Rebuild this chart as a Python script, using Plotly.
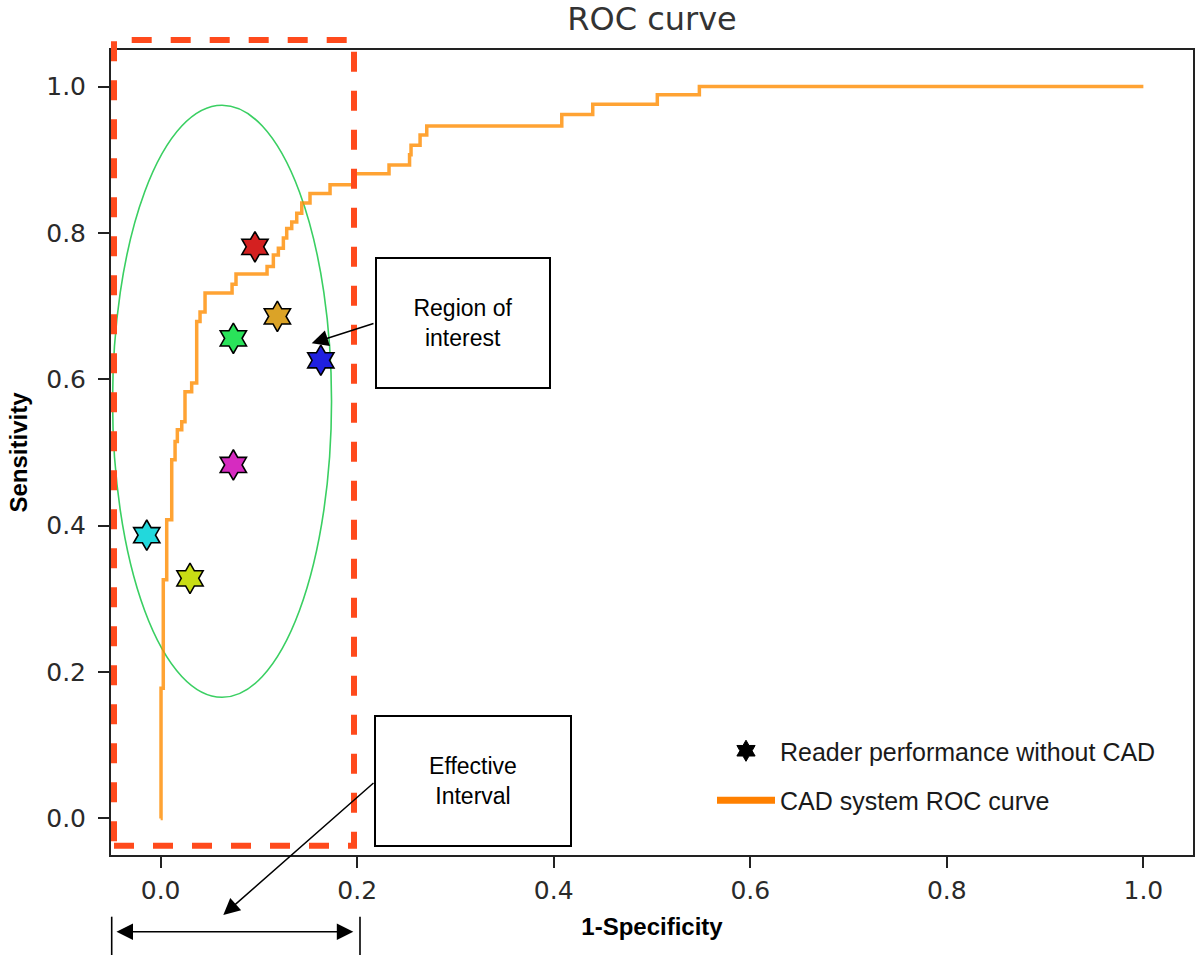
import plotly.graph_objects as go

# ---------------- data ----------------
# CAD system ROC curve (corner points; horizontal-then-vertical steps)
roc_fpr = [0.0, 0.0004, 0.0027, 0.0062, 0.0113, 0.0147, 0.0170, 0.0215, 0.0248,
           0.0316, 0.0367, 0.0401, 0.0452, 0.0727, 0.0767, 0.1083, 0.1147,
           0.1198, 0.1249, 0.1283, 0.1334, 0.1385, 0.1436, 0.1520, 0.1724,
           0.1968, 0.2324, 0.2533, 0.2548, 0.2640, 0.2708, 0.4082, 0.4397,
           0.5054, 0.5482, 1.0]
roc_tpr = [0.0, 0.178, 0.326, 0.408, 0.490, 0.515, 0.531, 0.542, 0.583,
           0.595, 0.679, 0.692, 0.718, 0.730, 0.744, 0.754, 0.770,
           0.779, 0.793, 0.806, 0.815, 0.827, 0.841, 0.854, 0.866,
           0.881, 0.893, 0.907, 0.920, 0.934, 0.946, 0.962, 0.976,
           0.989, 1.0, 1.0]

# Reader performance without CAD
reader_fpr = [0.096, 0.1188, 0.074, 0.163, 0.074, -0.0141, 0.0299]
reader_tpr = [0.781, 0.686, 0.656, 0.626, 0.483, 0.387, 0.328]
reader_colors = ["#d42020", "#dba327", "#2ae35a", "#2020e0",
                 "#d62bc0", "#22d8dc", "#c8dc14"]

x_ticks = [0.0, 0.2, 0.4, 0.6, 0.8, 1.0]
y_ticks = [0.0, 0.2, 0.4, 0.6, 0.8, 1.0]

# region-of-interest ellipse (data units)
ell_cx, ell_cy, ell_rx, ell_ry = 0.0625, 0.570, 0.1114, 0.4045

# ---------------- layout helpers ----------------
W, H = 1200, 959
# plot area in page pixels
SL, SR, ST, SB = 111, 1193, 50, 855


def fx(px):
    return (px - SL) / (SR - SL)


def fy(py):
    return (SB - py) / (SB - ST)


fig = go.Figure()

fig.add_trace(go.Scatter(
    x=roc_fpr, y=roc_tpr, mode="lines", line_shape="hv",
    line=dict(color="rgba(255,140,0,0.8)", width=3.5),
    showlegend=False, hoverinfo="skip"))

fig.add_trace(go.Scatter(
    x=reader_fpr, y=reader_tpr, mode="markers",
    marker=dict(symbol="hexagram", size=23, color=reader_colors,
                line=dict(color="black", width=1.6)),
    showlegend=False))

# legend entries
fig.add_trace(go.Scatter(
    x=[None], y=[None], mode="markers", name="Reader performance without CAD",
    marker=dict(symbol="hexagram", size=22, color="black",
                line=dict(color="black", width=1)),
    legendgroup="a"))
fig.add_trace(go.Scatter(
    x=[None], y=[None], mode="lines", name="CAD system ROC curve",
    line=dict(color="#ff8000", width=7), legendgroup="b"))

shapes = []
# ellipse
shapes.append(dict(type="circle", xref="x", yref="y",
                   x0=ell_cx - ell_rx, x1=ell_cx + ell_rx,
                   y0=ell_cy - ell_ry, y1=ell_cy + ell_ry,
                   line=dict(color="#3acf62", width=1.6), layer="below"))
# red dashed rectangle
shapes.append(dict(type="rect", xref="paper", yref="paper",
                   x0=fx(114), x1=fx(354), y0=fy(845.7), y1=fy(40),
                   line=dict(color="#ff4a1c", width=6, dash="20px,19px"),
                   layer="above"))
# interval end bars
for bx in (111.7, 360):
    shapes.append(dict(type="line", xref="paper", yref="paper",
                       x0=fx(bx), x1=fx(bx), y0=fy(916.7), y1=fy(955),
                       line=dict(color="black", width=1.6)))

annotations = []
box_font = dict(family="Liberation Sans, Arial", size=23, color="black")
annotations.append(dict(
    text="Region of<br>interest", xref="paper", yref="paper",
    x=fx(462.5), y=fy(323), xanchor="center", yanchor="middle",
    showarrow=False, font=box_font,
    width=172, height=128, bordercolor="black", borderwidth=2, borderpad=0,
    bgcolor="white", align="center", valign="middle"))
annotations.append(dict(
    text="Effective<br>Interval", xref="paper", yref="paper",
    x=fx(473.3), y=fy(780.5), xanchor="center", yanchor="middle",
    showarrow=False, font=box_font,
    width=194, height=128, bordercolor="black", borderwidth=2, borderpad=0,
    bgcolor="white", align="center", valign="middle"))
# arrows
annotations.append(dict(
    text="", xref="paper", yref="paper", x=fx(311.7), y=fy(343.3),
    ax=375 - 311.7, ay=323 - 343.3, axref="pixel", ayref="pixel",
    showarrow=True, arrowhead=2, arrowsize=2.2, arrowwidth=1.5,
    arrowcolor="black", standoff=0, startstandoff=0))
annotations.append(dict(
    text="", xref="paper", yref="paper", x=fx(223.3), y=fy(915),
    ax=375 - 223.3, ay=781.7 - 915, axref="pixel", ayref="pixel",
    showarrow=True, arrowhead=2, arrowsize=2.2, arrowwidth=1.5,
    arrowcolor="black", standoff=0, startstandoff=0))
annotations.append(dict(
    text="", xref="paper", yref="paper", x=fx(353.3), y=fy(931.7),
    ax=115 - 353.3, ay=0, axref="pixel", ayref="pixel",
    showarrow=True, arrowhead=2, arrowside="end+start", arrowsize=2.2,
    arrowwidth=1.5, arrowcolor="black", standoff=0, startstandoff=0))

tick_font = dict(family="DejaVu Sans", size=25, color="#2a2a2a")
label_font = dict(family="Liberation Sans, Arial", size=24, color="black",
                  weight="bold")

fig.update_layout(
    width=W, height=H,
    margin=dict(l=SL, r=W - SR, t=ST, b=H - SB, autoexpand=False),
    paper_bgcolor="white", plot_bgcolor="white",
    title=dict(text="ROC curve", x=0.5, xref="paper", xanchor="center",
               y=1 - 19 / H, yref="container", yanchor="middle",
               font=dict(family="DejaVu Sans", size=32, color="#333333")),
    xaxis=dict(range=[-0.0505, 1.0505], tickvals=x_ticks, tickformat=".1f",
               showgrid=False, zeroline=False, showline=True, mirror=True,
               linecolor="#222222", linewidth=2, ticks="outside", ticklen=11,
               tickwidth=2, tickcolor="#222222", tickfont=tick_font,
               ticklabelstandoff=1,
               title=dict(text="1-Specificity", font=label_font, standoff=14)),
    yaxis=dict(range=[-0.05, 1.05], tickvals=y_ticks, tickformat=".1f",
               showgrid=False, zeroline=False, showline=True, mirror=True,
               linecolor="#222222", linewidth=2, ticks="outside", ticklen=11,
               tickwidth=2, tickcolor="#222222", tickfont=tick_font,
               ticklabelstandoff=7,
               title=dict(text="Sensitivity", font=label_font, standoff=12)),
    legend=dict(x=fx(712), y=fy(728), xanchor="left", yanchor="top",
                bgcolor="rgba(0,0,0,0)", borderwidth=0,
                font=dict(family="Liberation Sans, Arial", size=25,
                          color="#1a1a1a"),
                tracegroupgap=14, itemwidth=58),
    shapes=shapes, annotations=annotations,
)

fig.write_html("out.html", config={"displayModeBar": False},
               post_script="document.body.style.margin='0';")
